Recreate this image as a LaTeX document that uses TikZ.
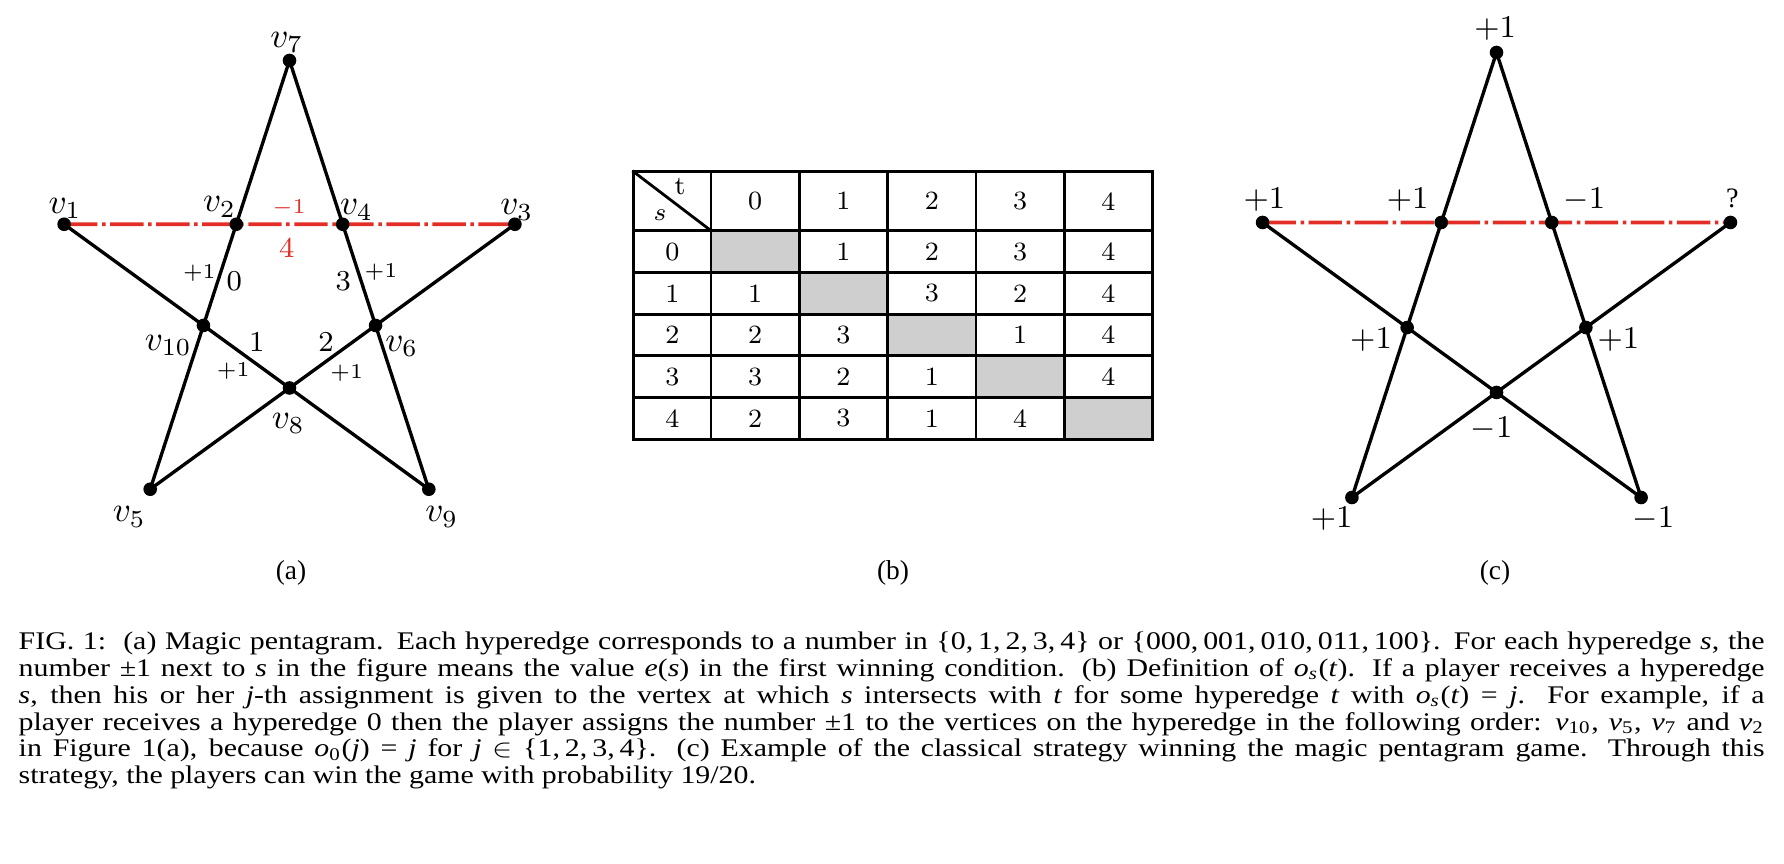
\documentclass[tikz,border=0pt]{standalone}
\usepackage{fontspec}
\usepackage{graphicx}
\newfontfamily\capfont{Liberation Serif}
\definecolor{edgered}{RGB}{226,46,38}
\definecolor{cellgray}{RGB}{208,207,207}
\tikzset{
  starline/.style={black,line width=0.95pt,line cap=round},
  edgefour/.style={edgered,line width=1.05pt,dash pattern=on 9.5pt off 1.3pt on 1pt off 1.3pt},
  tablerule/.style={black,line width=0.8pt,line cap=rect},
  vlab/.style={inner sep=0pt,font=\fontsize{9.6}{10}\selectfont},
  elab/.style={inner sep=0pt,font=\fontsize{8.2}{9}\selectfont},
  slab/.style={inner sep=0pt,font=\fontsize{6.5}{7}\selectfont},
  clab/.style={inner sep=0pt,font=\fontsize{9.2}{10}\selectfont},
  tnum/.style={inner sep=0pt,font=\fontsize{7.5}{8}\selectfont},
  sublab/.style={inner sep=0pt,font=\capfont\fontsize{7.8}{8}\selectfont},
}
\begin{document}
\begin{tikzpicture}[x=1cm,y=1cm]
  \useasboundingbox (0,0) rectangle (17.84,8.64);
  % (a) magic pentagram, vertices
  \begin{scope}[shift={(2.895,5.665)}]
    \foreach \i/\ang in {7/90,3/18,9/-54,5/-126,1/162} \coordinate (a\i) at (\ang:2.37);
    \foreach \i/\ang in {4/54,6/-18,8/-90,10/-162,2/126} \coordinate (a\i) at (\ang:0.905);
  \end{scope}
  \draw[starline] (a7) -- (a2) -- (a10) -- (a5);
  \draw[starline] (a1) -- (a10) -- (a8) -- (a9);
  \draw[starline] (a5) -- (a8) -- (a6) -- (a3);
  \draw[starline] (a7) -- (a4) -- (a6) -- (a9);
  \draw[edgefour] (a1) -- (a2) -- (a4) -- (a3);
  \foreach \i in {1,...,10} \fill (a\i) circle (0.068);
  \node[vlab] (lv7) at (2.867,8.213) {$v_{7}$};
  \node[vlab] (lv1) at (0.650,6.555) {$v_{1}$};
  \node[vlab] (lv2) at (2.195,6.570) {$v_{2}$};
  \node[vlab] (lv4) at (3.565,6.540) {$v_{4}$};
  \node[vlab] (lv3) at (5.167,6.540) {$v_{3}$};
  \node[vlab] (lv10) at (1.683,5.187) {$v_{10}$};
  \node[vlab] (lv6) at (4.017,5.177) {$v_{6}$};
  \node[vlab] (lv8) at (2.883,4.403) {$v_{8}$};
  \node[vlab] (lv5) at (1.293,3.470) {$v_{5}$};
  \node[vlab] (lv9) at (4.417,3.470) {$v_{9}$};
  % hyperedge numbers and e(s)
  \node[slab,text=edgered] (e4val) at (2.890,6.560) {$-1$};
  \node[elab,text=edgered] (e4) at (2.867,6.165) {4};
  \node[slab] (e0val) at (1.993,5.913) {$+1$};
  \node[elab] (e0) at (2.343,5.823) {0};
  \node[elab] (e3) at (3.433,5.823) {3};
  \node[slab] (e3val) at (3.810,5.923) {$+1$};
  \node[elab] (e1) at (2.567,5.223) {1};
  \node[elab] (e2) at (3.260,5.223) {2};
  \node[slab] (e1val) at (2.333,4.930) {$+1$};
  \node[slab] (e2val) at (3.467,4.913) {$+1$};
  \node[sublab] (capa) at (2.910,2.913) {(a)};
  % (b) table of o_s(t)
  \foreach \s in {0,...,4} \fill[cellgray] ({7.110+0.883*\s},{6.333-0.4172*\s}) rectangle ++(0.883,-0.4172);
  \foreach \x in {6.335,7.110,7.993,8.876,9.759,10.642,11.525} \draw[tablerule] (\x,6.923) -- (\x,4.247);
  \foreach \y in {6.923,6.333,5.916,5.498,5.081,4.664,4.247} \draw[tablerule] (6.335,\y) -- (11.525,\y);
  \draw[tablerule] (6.335,6.923) -- (7.110,6.333);
  \node[tnum] (tt) at (6.800,6.773) {t};
  \node[tnum] (ts) at (6.600,6.490) {$s$};
  \foreach \t in {0,...,4} \node[tnum] (h\t) at ({7.5515+0.883*\t},6.628) {\t};
  \foreach \s in {0,...,4} \node[tnum] (r\s) at (6.7225,{6.1244-0.4172*\s}) {\s};
  \foreach \s/\row in {0/{1/1,2/2,3/3,4/4},1/{0/1,2/3,3/2,4/4},2/{0/2,1/3,3/1,4/4},3/{0/3,1/2,2/1,4/4},4/{0/2,1/3,2/1,3/4}}
    \foreach \t/\v in \row
      \node[tnum] (o\s\t) at ({7.5515+0.883*\t},{6.1244-0.4172*\s}) {\v};
  \node[sublab] (capb) at (8.930,2.913) {(b)};
  % (c) classical strategy
  \begin{scope}[shift={(14.965,5.655)}]
    \foreach \i/\ang in {7/90,3/18,9/-54,5/-126,1/162} \coordinate (c\i) at (\ang:2.46);
    \foreach \i/\ang in {4/54,6/-18,8/-90,10/-162,2/126} \coordinate (c\i) at (\ang:0.9397);
  \end{scope}
  \draw[starline] (c7) -- (c2) -- (c10) -- (c5);
  \draw[starline] (c1) -- (c10) -- (c8) -- (c9);
  \draw[starline] (c5) -- (c8) -- (c6) -- (c3);
  \draw[starline] (c7) -- (c4) -- (c6) -- (c9);
  \draw[edgefour] (c1) -- (c2) -- (c4) -- (c3);
  \foreach \i in {1,...,10} \fill (c\i) circle (0.068);
  \node[clab] (w7) at (14.950,8.357) {$+1$};
  \node[clab] (w1) at (12.643,6.647) {$+1$};
  \node[clab] (w2) at (14.077,6.647) {$+1$};
  \node[clab] (w4) at (15.843,6.647) {$-1$};
  \node[clab,font=\capfont\fontsize{8}{9}\selectfont] (w3) at (17.323,6.657) {?};
  \node[clab] (w10) at (13.710,5.240) {$+1$};
  \node[clab] (w6) at (16.183,5.240) {$+1$};
  \node[clab] (w8) at (14.917,4.357) {$-1$};
  \node[clab] (w5) at (13.317,3.457) {$+1$};
  \node[clab] (w9) at (16.533,3.457) {$-1$};
  \node[sublab] (capc) at (14.950,2.913) {(c)};
  % caption
  \node[anchor=base west,inner sep=0pt] (caption) at (0.180,2.140) {\scalebox{1}[0.85]{\parbox[t]{17.46cm}{\capfont\fontsize{8.5}{8.94}\selectfont\noindent
  FIG. 1:\ \ (a) Magic pentagram. Each hyperedge corresponds to a number in \{0,\,1,\,2,\,3,\,4\} or \{000,\,001,\,010,\,011,\,100\}. For each hyperedge \textit{s}, the\linebreak
  number ±1 next to \textit{s} in the figure means the value \textit{e}(\textit{s}) in the first winning condition. (b) Definition of \textit{o}\textsubscript{\textit{s}}(\textit{t}). If a player receives a hyperedge\linebreak
  \textit{s}, then his or her \textit{j}-th assignment is given to the vertex at which \textit{s} intersects with \textit{t} for some hyperedge \textit{t} with \textit{o}\textsubscript{\textit{s}}(\textit{t}) = \textit{j}. For example, if a\linebreak
  player receives a hyperedge 0 then the player assigns the number ±1 to the vertices on the hyperedge in the following order: \textit{v}\textsubscript{10}, \textit{v}\textsubscript{5}, \textit{v}\textsubscript{7} and \textit{v}\textsubscript{2}\linebreak
  in Figure 1(a), because \textit{o}\textsubscript{0}(\textit{j}) = \textit{j} for \textit{j} $\in$ \{1,\,2,\,3,\,4\}. (c) Example of the classical strategy winning the magic pentagram game. Through this\linebreak
  strategy, the players can win the game with probability 19/20.}}};
\end{tikzpicture}
\end{document}
